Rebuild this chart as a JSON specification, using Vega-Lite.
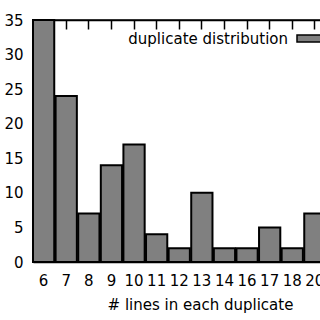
{
  "$schema": "https://vega.github.io/schema/vega-lite/v6.json",
  "autosize": {"type": "none"},
  "padding": {"left": 33, "top": 20, "right": 0, "bottom": 58},
  "width": 292.5,
  "height": 242,
  "config": {
    "font": "DejaVu Sans",
    "view": {"stroke": "black", "strokeWidth": 1.5},
    "axis": {"labelFont": "DejaVu Sans", "titleFont": "DejaVu Sans", "labelColor": "black", "titleColor": "black", "labelFontSize": 15, "titleFontSize": 15, "titleFontWeight": "normal", "grid": false}
  },
  "data": {"values": [
    {"lines": "6", "count": 35},
    {"lines": "7", "count": 24},
    {"lines": "8", "count": 7},
    {"lines": "9", "count": 14},
    {"lines": "10", "count": 17},
    {"lines": "11", "count": 4},
    {"lines": "12", "count": 2},
    {"lines": "13", "count": 10},
    {"lines": "14", "count": 2},
    {"lines": "16", "count": 2},
    {"lines": "17", "count": 5},
    {"lines": "18", "count": 2},
    {"lines": "20", "count": 7}
  ]},
  "layer": [
    {
      "mark": {"type": "bar", "stroke": "black", "strokeWidth": 2},
      "encoding": {
        "x": {"field": "lines", "type": "ordinal", "sort": null,
          "scale": {"paddingInner": 0.06, "paddingOuter": 0},
          "axis": {"orient": "bottom", "labelAngle": 0, "ticks": false, "tickSize": 0, "labelPadding": 11, "labelOverlap": false, "domain": true, "domainColor": "black", "domainWidth": 1.5, "title": "# lines in each duplicate", "titlePadding": 9, "titleX": 167}},
        "y": {"field": "count", "type": "quantitative",
          "scale": {"domain": [0, 35], "nice": false},
          "axis": {"values": [0, 5, 10, 15, 20, 25, 30, 35], "tickCount": 8, "labelOverlap": false, "labelFlush": false, "ticks": false, "tickSize": 0, "labelPadding": 10, "domain": false, "title": null}},
        "color": {"datum": "duplicate distribution",
          "scale": {"range": ["#808080"]},
          "legend": {"title": null, "orient": "none", "legendX": 263, "legendY": 0, "padding": 0,
            "symbolType": "M-1,-0.2H1V0.2H-1Z", "symbolSize": 1225, "symbolFillColor": "#808080", "symbolStrokeColor": "black", "symbolStrokeWidth": 1.5, "symbolOpacity": 1,
            "labelAlign": "right", "labelOffset": -45, "labelFontSize": 15, "labelFont": "DejaVu Sans", "labelColor": "black", "labelLimit": 400}}
      }
    },
    {
      "mark": {"type": "bar", "opacity": 0},
      "encoding": {
        "x": {"field": "lines", "type": "ordinal", "sort": null,
          "axis": {"orient": "top", "labels": false, "ticks": true, "tickSize": -9, "tickColor": "black", "tickWidth": 1.5, "domain": true, "domainColor": "black", "domainWidth": 1.5, "title": null}}
      }
    }
  ],
  "resolve": {"axis": {"x": "independent"}}
}
